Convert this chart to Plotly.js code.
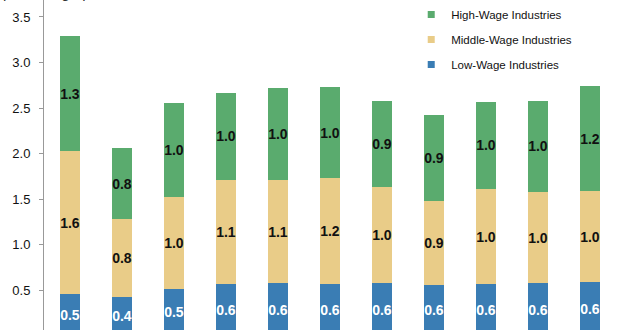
<!DOCTYPE html>
<html>
<head>
<meta charset="utf-8">
<script src="https://cdn.plot.ly/plotly-3.0.1.min.js"></script>
<style>html,body{margin:0;padding:0;background:#fff;}#chart{width:628px;height:330px;}</style>
</head>
<body>
<div id="chart"></div>
<script>
// Categories (x-axis labels are cropped out of the reference, so they are hidden)
var categories = ['1','2','3','4','5','6','7','8','9','10','11'];

// Contributions in percentage points
var lowWage    = [0.46, 0.43, 0.52, 0.57, 0.58, 0.57, 0.58, 0.56, 0.57, 0.58, 0.59];
var middleWage = [1.57, 0.85, 1.00, 1.14, 1.13, 1.16, 1.06, 0.92, 1.04, 1.00, 1.00];
var highWage   = [1.26, 0.78, 1.04, 0.96, 1.01, 1.00, 0.94, 0.94, 0.96, 1.00, 1.15];

// Data labels as printed on the bars
var lowLabels    = ['0.5','0.4','0.5','0.6','0.6','0.6','0.6','0.6','0.6','0.6','0.6'];
var middleLabels = ['1.6','0.8','1.0','1.1','1.1','1.2','1.0','0.9','1.0','1.0','1.0'];
var highLabels   = ['1.3','0.8','1.0','1.0','1.0','1.0','0.9','0.9','1.0','1.0','1.2'];

var seriesNames = ['Low-Wage Industries','Middle-Wage Industries','High-Wage Industries'];
var colors = ['#3a7db4', '#e9cc88', '#5aab6e'];

var FONT = 'Liberation Sans, Arial, Helvetica, sans-serif';

function barTrace(vals, labels, idx, txtColor) {
  return {
    type: 'bar', x: categories, y: vals, name: seriesNames[idx],
    marker: {color: colors[idx], line: {width: 0}},
    text: labels, textposition: 'inside', insidetextanchor: 'middle',
    textangle: 0, constraintext: 'none',
    textfont: {family: FONT, size: 14, color: txtColor, weight: 'bold'},
    hoverinfo: 'skip', showlegend: false
  };
}
function legendTrace(idx, rank) {
  return {
    type: 'scatter', mode: 'markers', x: [null], y: [null],
    name: seriesNames[idx], legendgroup: 'g' + idx, legendrank: rank,
    marker: {symbol: 'square', size: 7, color: colors[idx]},
    hoverinfo: 'skip'
  };
}

var data = [
  barTrace(lowWage, lowLabels, 0, '#ffffff'),
  barTrace(middleWage, middleLabels, 1, '#111111'),
  barTrace(highWage, highLabels, 2, '#111111'),
  legendTrace(2, 1), legendTrace(1, 2), legendTrace(0, 3)
];

var layout = {
  width: 628, height: 330,
  margin: {l: 44, r: 12, t: 0, b: 0, pad: 0},
  paper_bgcolor: '#ffffff', plot_bgcolor: '#ffffff',
  font: {family: FONT, size: 12, color: '#111111'},
  barmode: 'stack', bargap: 0.6,
  showlegend: true,
  legend: {
    x: 0.642, y: 1.0, xanchor: 'left', yanchor: 'top',
    traceorder: 'grouped', tracegroupgap: 6,
    font: {family: FONT, size: 11.5, color: '#111111'},
    bgcolor: 'rgba(0,0,0,0)', itemwidth: 30
  },
  xaxis: {
    type: 'category', range: [-0.5, 10.5],
    showticklabels: false, ticks: '', showgrid: false, zeroline: false, showline: false
  },
  yaxis: {
    range: [0.066, 3.686], tickvals: [0.5, 1.0, 1.5, 2.0, 2.5, 3.0, 3.5],
    ticktext: ['0.5','1.0','1.5','2.0','2.5','3.0','3.5'],
    ticks: 'outside', ticklen: 4, tickcolor: '#999999', tickwidth: 1,
    showline: true, linecolor: '#999999', linewidth: 1,
    showgrid: false, zeroline: false,
    tickfont: {family: FONT, size: 13, color: '#111111'}, ticklabelstandoff: 6
  },
  annotations: [{
    text: 'percentage points', xref: 'paper', yref: 'paper',
    x: -0.075, y: 1, xanchor: 'left', yanchor: 'bottom', yshift: -3,
    showarrow: false, font: {family: FONT, size: 15, color: '#333333'}
  }]
};

Plotly.newPlot('chart', data, layout, {displayModeBar: false, staticPlot: true});
</script>
</body>
</html>
